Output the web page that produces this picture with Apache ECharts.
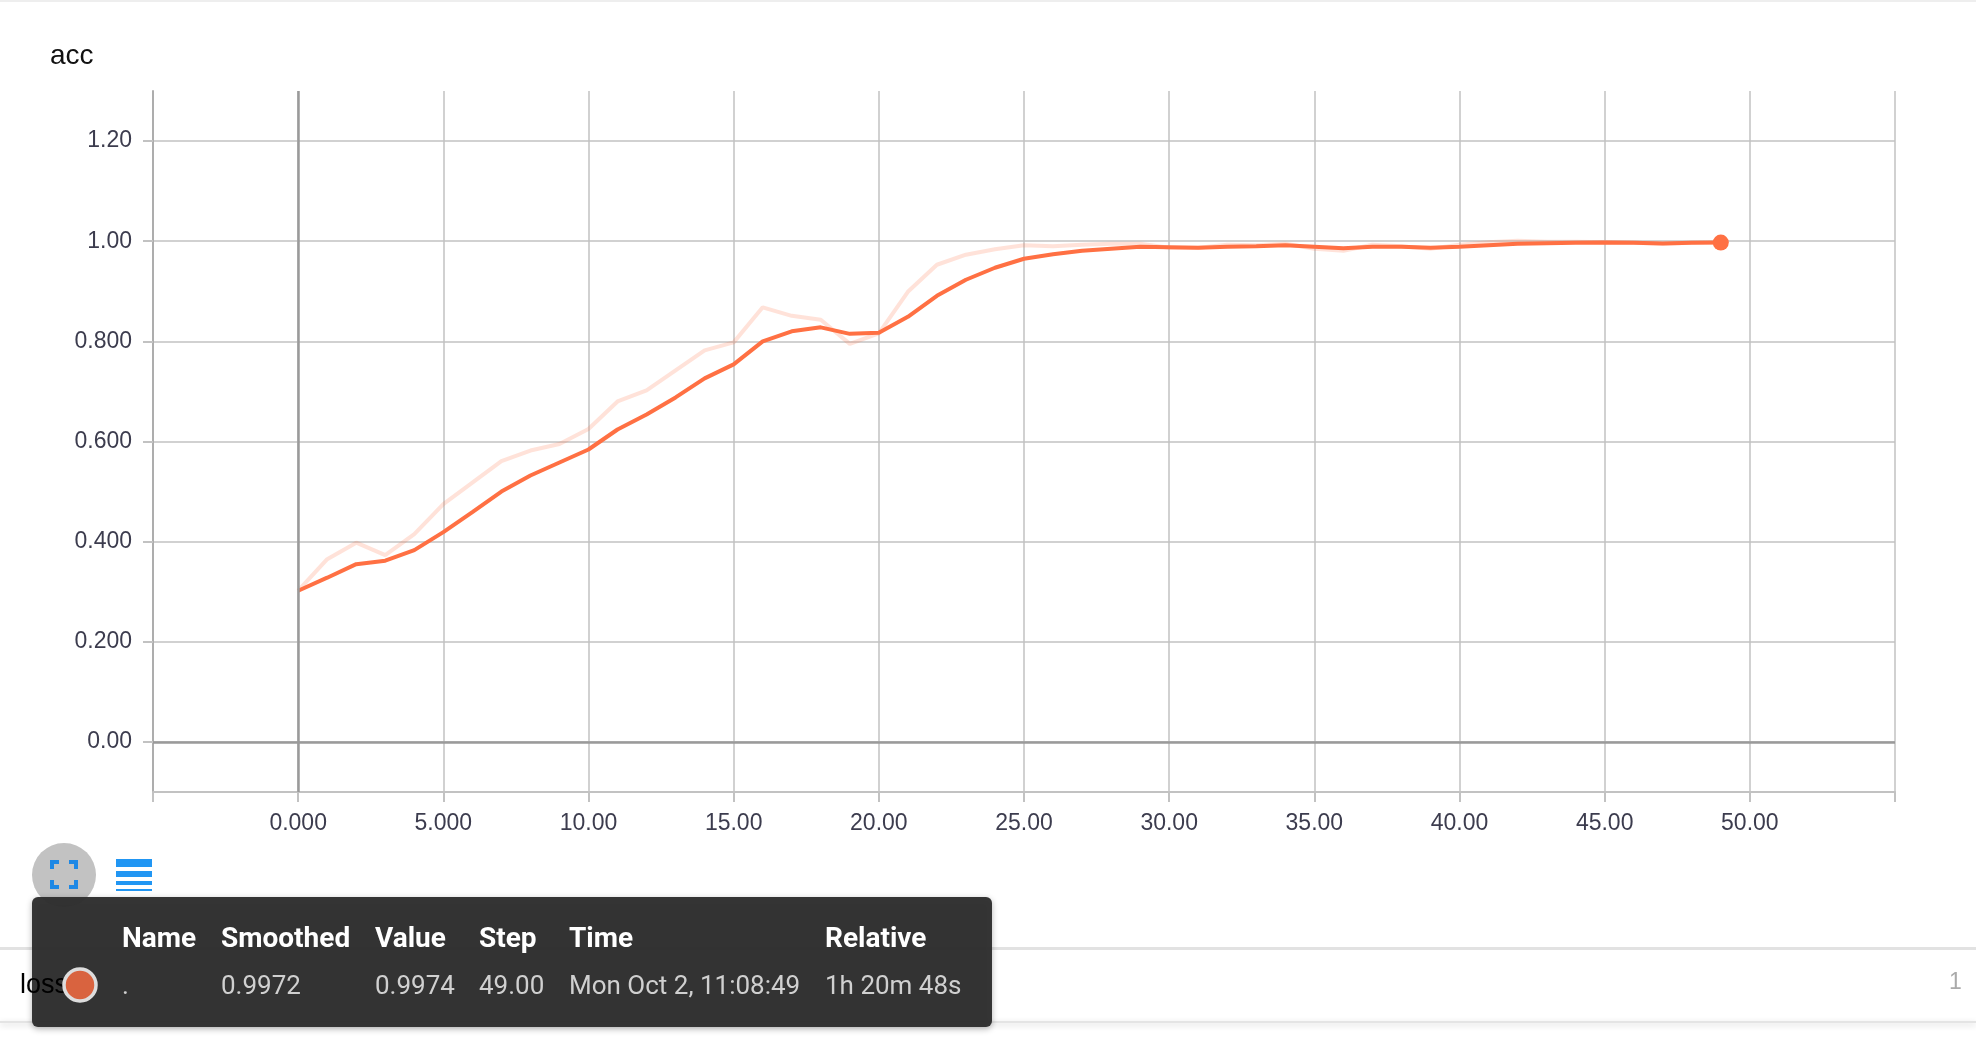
<!DOCTYPE html>
<html>
<head>
<meta charset="utf-8">
<title>acc</title>
<script src="https://cdn.jsdelivr.net/npm/echarts@6/dist/echarts.min.js"></script>
<style>
html, body { margin: 0; padding: 0; background: #fff; }
#chart { width: 1976px; height: 1050px; }
</style>
</head>
<body>
<div id="chart"></div>
<script>
const steps = [0,1,2,3,4,5,6,7,8,9,10,11,12,13,14,15,16,17,18,19,20,21,22,23,24,25,26,27,28,29,30,31,32,33,34,35,36,37,38,39,40,41,42,43,44,45,46,47,48,49];
const rawValues = [0.302,0.365,0.398,0.373,0.415,0.475,0.518,0.561,0.582,0.595,0.625,0.680,0.702,0.742,0.782,0.798,0.868,0.851,0.843,0.795,0.816,0.899,0.953,0.973,0.984,0.992,0.990,0.993,0.995,0.995,0.987,0.987,0.993,0.992,0.995,0.985,0.981,0.993,0.990,0.985,0.993,0.998,1.001,0.999,0.999,0.998,0.9967,0.995,0.9967,0.9974];
const smoothedValues = [0.302,0.328,0.355,0.362,0.383,0.419,0.459,0.500,0.532,0.558,0.584,0.624,0.654,0.688,0.726,0.754,0.800,0.820,0.828,0.815,0.817,0.849,0.891,0.923,0.947,0.965,0.974,0.981,0.985,0.989,0.988,0.987,0.989,0.990,0.992,0.989,0.986,0.989,0.989,0.987,0.989,0.992,0.995,0.996,0.9967,0.9973,0.9967,0.9953,0.9967,0.9972];
const xTicks = [-5,0,5,10,15,20,25,30,35,40,45,50,55];
const xTickLabels = ['','0.000','5.000','10.00','15.00','20.00','25.00','30.00','35.00','40.00','45.00','50.00',''];
const yTicks = [0,0.2,0.4,0.6,0.8,1,1.2];
const yTickLabels = ['0.00','0.200','0.400','0.600','0.800','1.00','1.20'];
const tooltipHeaders = ['Name','Smoothed','Value','Step','Time','Relative'];
const tooltipRow = ['.','0.9972','0.9974','49.00','Mon Oct 2, 11:08:49','1h 20m 48s'];
const tooltipColumns = [122,221,375,479,569,825];

const lineColor = '#ff7043';
const gridColor = '#c2c2c2';
const axisFont = '"Liberation Sans", Arial, sans-serif';
const tipFont = 'Roboto, sans-serif';
const blue = '#2196f3';

function bracket(points) {
    return {
        type: 'polyline',
        shape: { points: points },
        style: { stroke: '#1e88e5', lineWidth: 4, fill: null }
    };
}

function bar(y, h) {
    return { type: 'rect', shape: { x: 116, y: y, width: 36, height: h }, style: { fill: blue } };
}

const tipTexts = [];
tooltipHeaders.forEach((t, i) => {
    tipTexts.push({
        type: 'text', x: tooltipColumns[i], y: 940, z: 20,
        style: { text: t, fill: '#fff', font: 'bold 28px ' + tipFont, textVerticalAlign: 'middle' }
    });
});
tooltipRow.forEach((t, i) => {
    tipTexts.push({
        type: 'text', x: tooltipColumns[i], y: 987, z: 20,
        style: { text: t, fill: '#d0d0d0', font: '26px ' + tipFont, textVerticalAlign: 'middle' }
    });
});

const graphics = [
    // top edge of the card
    { type: 'rect', shape: { x: 0, y: 0, width: 1976, height: 2 }, style: { fill: '#eeeeee' } },
    { type: 'text', x: 50, y: 56, style: { text: 'acc', fill: '#111', font: '28px ' + axisFont, textVerticalAlign: 'middle' } },

    // lower "loss" card
    { type: 'rect', shape: { x: 0, y: 947, width: 1976, height: 3 }, style: { fill: '#e2e2e2' } },
    { type: 'rect', shape: { x: 0, y: 1021, width: 1976, height: 2 }, style: { fill: '#e4e4e4', shadowBlur: 6, shadowColor: 'rgba(0,0,0,0.2)', shadowOffsetY: 2 } },
    { type: 'text', x: 1949, y: 983, style: { text: '1', fill: '#aaaaaa', font: '23px ' + axisFont, textVerticalAlign: 'middle' } },

    // chart buttons
    { type: 'circle', shape: { cx: 64, cy: 875, r: 32 }, style: { fill: '#c2c2c2' } },
    bracket([[52, 869], [52, 862], [59, 862]]),
    bracket([[69, 862], [76, 862], [76, 869]]),
    bracket([[52, 880], [52, 887], [59, 887]]),
    bracket([[69, 887], [76, 887], [76, 880]]),
    bar(859, 8), bar(871, 6), bar(881, 4), bar(889, 2),

    // tooltip box, the run name shows through it
    {
        type: 'rect', z: 15,
        shape: { x: 32, y: 897, width: 960, height: 130, r: 6 },
        style: { fill: 'rgba(46,46,46,0.96)', shadowBlur: 6, shadowColor: 'rgba(0,0,0,0.3)', shadowOffsetY: 2 }
    },
    { type: 'text', x: 20, y: 986, z: 16, style: { text: 'loss', fill: '#000', font: '27px ' + axisFont, textVerticalAlign: 'middle' } },
    {
        type: 'circle', z: 20,
        shape: { cx: 80, cy: 985, r: 16 },
        style: { fill: '#d9633f', stroke: '#dddddd', lineWidth: 3.5 }
    }
].concat(tipTexts);

const myChart = echarts.init(document.getElementById('chart'));
const option = {
    animation: false,
    grid: { left: 153, right: 81, top: 91, bottom: 258 },
    xAxis: {
        type: 'value',
        min: -5,
        max: 55,
        interval: 5,
        axisLine: { onZero: false, lineStyle: { color: gridColor, width: 2 } },
        axisTick: { show: true, length: 10, customValues: xTicks, lineStyle: { color: gridColor, width: 2 } },
        splitLine: { show: true, lineStyle: { color: gridColor, width: 1.5 } },
        axisLabel: {
            color: '#3c3c4e',
            fontFamily: axisFont,
            fontSize: 23,
            margin: 20,
            customValues: xTicks,
            formatter: v => xTickLabels[xTicks.indexOf(v)] || ''
        }
    },
    yAxis: {
        type: 'value',
        min: -0.1,
        max: 1.3,
        axisLine: { onZero: false, show: true, lineStyle: { color: '#adadad', width: 2 } },
        axisTick: { show: true, length: 10, customValues: yTicks, lineStyle: { color: gridColor, width: 2 } },
        splitLine: { show: true, lineStyle: { color: gridColor, width: 1.5 } },
        axisLabel: {
            color: '#3c3c4e',
            fontFamily: axisFont,
            fontSize: 23,
            margin: 21,
            customValues: yTicks,
            formatter: v => yTickLabels[yTicks.findIndex(t => Math.abs(t - v) < 1e-6)] || ''
        }
    },
    series: [
        {
            name: 'raw',
            type: 'line',
            data: steps.map((s, i) => [s, rawValues[i]]),
            showSymbol: false,
            silent: true,
            lineStyle: { color: lineColor, width: 4, opacity: 0.2 },
            markLine: {
                silent: true,
                symbol: 'none',
                label: { show: false },
                lineStyle: { color: '#9a9a9a', width: 2.5, type: 'solid' },
                data: [{ xAxis: 0 }, { yAxis: 0 }]
            }
        },
        {
            name: 'smoothed',
            type: 'line',
            data: steps.map((s, i) => [s, smoothedValues[i]]),
            showSymbol: false,
            silent: true,
            lineStyle: { color: lineColor, width: 4 },
            markPoint: {
                silent: true,
                symbol: 'circle',
                symbolSize: 16,
                itemStyle: { color: lineColor },
                label: { show: false },
                data: [{ coord: [steps[49], smoothedValues[49]] }]
            }
        }
    ],
    graphic: { elements: graphics }
};
myChart.setOption(option);
</script>
</body>
</html>
